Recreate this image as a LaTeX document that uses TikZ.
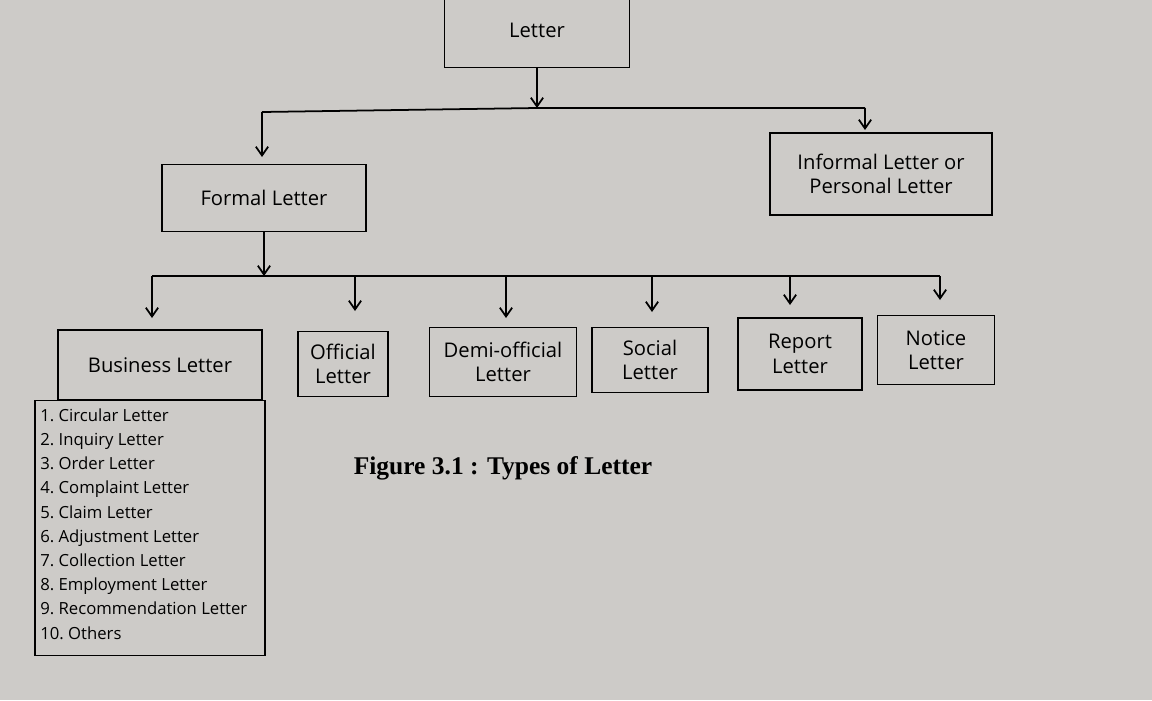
\documentclass[tikz,border=0pt]{standalone}
\usepackage{fontspec}
\setmainfont{Liberation Serif}
\newfontfamily\boxfont{Open Sans}
\usetikzlibrary{arrows.meta}
\definecolor{paper}{RGB}{205,203,200}
\begin{document}
\begin{tikzpicture}[x=0.02cm,y=-0.02cm,
  bx/.style={draw=black,line width=1pt,fill=paper,align=center,font=\boxfont\fontsize{11.5}{14}\selectfont},
  arr/.style={line width=1pt,-{Straight Barb[length=5pt,width=7pt]}},
  ln/.style={line width=1pt}]
\fill[paper] (0,0) rectangle (1152,700);
\useasboundingbox (0,0) rectangle (1152,700);
\node[bx,minimum width=3.7cm,minimum height=1.5cm] (letter) at (537,30) {Letter};
\node[bx,minimum width=4.08cm,minimum height=1.34cm] (formal) at (264,198) {Formal Letter};
\node[bx,minimum width=4.44cm,minimum height=1.64cm] (informal) at (881,174) {Informal Letter or\\Personal Letter};
\coordinate (j1) at (537,108);
\draw[arr] (letter.south) -- (j1);
\coordinate (l1) at (262,112);
\coordinate (r1) at (865,108);
\draw[ln] (l1) -- (j1) -- (r1);
\draw[arr] (l1) -- (262,157);
\draw[arr] (r1) -- (865,130);
\node[bx,minimum width=4.08cm,minimum height=1.4cm] (bus) at (160,365) {Business Letter};
\node[bx,minimum width=1.8cm,minimum height=1.3cm] (off) at (343,364) {Official\\Letter};
\node[bx,minimum width=2.94cm,minimum height=1.38cm] (demi) at (503,362) {Demi-official\\Letter};
\node[bx,minimum width=2.32cm,minimum height=1.3cm] (soc) at (650,360) {Social\\Letter};
\node[bx,minimum width=2.48cm,minimum height=1.44cm] (rep) at (800,354) {Report\\Letter};
\node[bx,minimum width=2.34cm,minimum height=1.38cm] (not) at (936,350) {Notice\\Letter};
\coordinate (j2) at (264,276);
\draw[arr] (formal.south) -- (j2);
\draw[ln] (152,276) -- (940,276);
\draw[arr] (152,276) -- (152,318);
\draw[arr] (355,276) -- (355,311);
\draw[arr] (506,276) -- (506,318);
\draw[arr] (652,276) -- (652,312);
\draw[arr] (790,276) -- (790,305);
\draw[arr] (940,276) -- (940,300);
\node[draw,line width=1pt,minimum width=4.6cm,minimum height=5.1cm] (list) at (150,528) {};
\foreach \t [count=\i] in {1.\ Circular Letter,2.\ Inquiry Letter,3.\ Order Letter,4.\ Complaint Letter,5.\ Claim Letter,6.\ Adjustment Letter,7.\ Collection Letter,8.\ Employment Letter,9.\ Recommendation Letter,10.\ Others}
  \node[anchor=base west,inner sep=0pt,font=\boxfont\fontsize{9.5}{11}\selectfont] (it\i) at (40,397+24.2*\i) {\t};
\node[font=\bfseries\fontsize{14.5}{17}\selectfont] (cap) at (503,468) {Figure 3.1 : Types of Letter};
\end{tikzpicture}
\end{document}
